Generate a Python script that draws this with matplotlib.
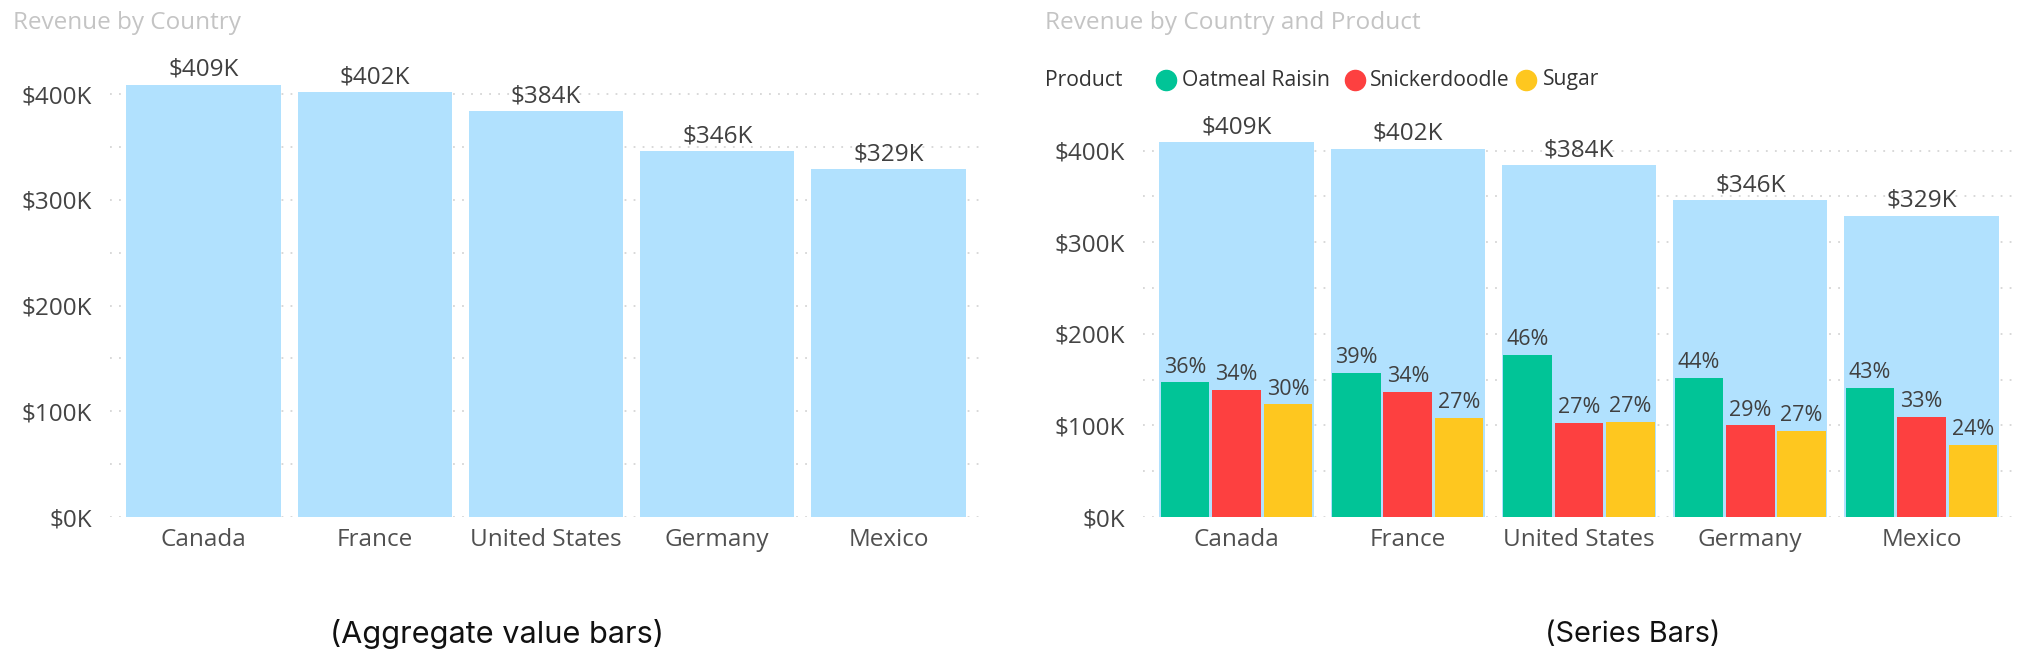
import matplotlib
matplotlib.use("Agg")
import matplotlib.pyplot as plt
from matplotlib.lines import Line2D
from matplotlib.ticker import MultipleLocator, FuncFormatter

# ---------------- data (thousands of $) ----------------
countries = ["Canada", "France", "United States", "Germany", "Mexico"]
revenue_total_k = [409, 402, 384, 346, 329]
oatmeal_raisin_k = [147, 157, 177, 152, 141]
snickerdoodle_k = [139, 137, 103, 100, 109]
sugar_k = [123, 108, 104, 94, 79]
products = ["Oatmeal Raisin", "Snickerdoodle", "Sugar"]
y_ticks_k = [0, 100, 200, 300, 400]

# ---------------- style ----------------
FONT = "Open Sans"
plt.rcParams["font.family"] = [FONT, "DejaVu Sans"]
LIGHT_BLUE = "#B1E1FE"
PROD_COLORS = ["#01C497", "#FD4040", "#FEC71F"]
TICK_COLOR = "#444444"
CAT_COLOR = "#505050"
LABEL_COLOR = "#404040"
TITLE_COLOR = "#C4C4C4"
GRID_COLOR = "#D6D6D6"

W, H = 2024, 652
fig = plt.figure(figsize=(W / 100, H / 100), dpi=100)
fig.patch.set_facecolor("white")
renderer = fig.canvas.get_renderer()


def fit_text(x_px, y_px, s, width_px, ha="left", base=16, **kw):
    t = fig.text(x_px / W, 1 - y_px / H, s, fontsize=base, ha=ha, va="center", **kw)
    w = t.get_window_extent(renderer).width
    t.set_fontsize(base * width_px / w)
    return t


def px_axes(x0, x1, y_bottom, y_top):
    return fig.add_axes([x0 / W, 1 - y_bottom / H, (x1 - x0) / W, (y_bottom - y_top) / H])


def style_axes(ax, ymax):
    ax.set_xlim(-0.546, len(countries) - 1 + 0.546)
    ax.set_ylim(0, ymax)
    for s in ax.spines.values():
        s.set_visible(False)
    ax.yaxis.set_minor_locator(MultipleLocator(50))
    ax.set_yticks(y_ticks_k)
    ax.yaxis.set_major_formatter(FuncFormatter(lambda v, p: f"${int(v)}K"))
    ax.tick_params(axis="y", which="both", length=0, pad=13, labelsize=17.5, labelcolor=TICK_COLOR)
    ax.tick_params(axis="x", length=0, pad=8, labelsize=17.5, labelcolor=CAT_COLOR)
    ax.set_xticks(range(len(countries)))
    ax.set_xticklabels(countries)
    ax.grid(axis="y", which="both", color=GRID_COLOR, linestyle=(0, (1, 4)), linewidth=1.3)
    ax.set_axisbelow(True)


x = list(range(len(countries)))
BAR_W = 0.9

# ---------------- left chart ----------------
ax1 = px_axes(110, 982, 517, 52)
ax1.bar(x, revenue_total_k, width=BAR_W, color=LIGHT_BLUE, zorder=2)
style_axes(ax1, 440)
for xi, v in zip(x, revenue_total_k):
    ax1.annotate(f"${v}K", (xi, v), xytext=(0, 6.5), textcoords="offset points",
                 ha="center", va="baseline", fontsize=17.5, color=LABEL_COLOR)
fit_text(13, 23, "Revenue by Country", 228, color=TITLE_COLOR)

# ---------------- right chart ----------------
ax2 = px_axes(1143, 2015, 517, 114)
ax2.bar(x, revenue_total_k, width=BAR_W, color=LIGHT_BLUE, zorder=2)
style_axes(ax2, 440)
for xi, v in zip(x, revenue_total_k):
    ax2.annotate(f"${v}K", (xi, v), xytext=(0, 6.5), textcoords="offset points",
                 ha="center", va="baseline", fontsize=17.5, color=LABEL_COLOR)

series = [oatmeal_raisin_k, snickerdoodle_k, sugar_k]
sub_w = BAR_W / 3
for k, (vals, col) in enumerate(zip(series, PROD_COLORS)):
    offs = (k - 1) * sub_w
    xs = [xi + offs for xi in x]
    ax2.bar(xs, vals, width=sub_w - 0.016, color=col, zorder=3)
    for xi, v, tot in zip(xs, vals, revenue_total_k):
        ax2.annotate(f"{round(100 * v / tot)}%", (xi, v), xytext=(0, 7), textcoords="offset points",
                     ha="center", va="baseline", fontsize=15.5, color=LABEL_COLOR, zorder=4)

fit_text(1045, 23, "Revenue by Country and Product", 374, color=TITLE_COLOR)

# legend
LEG_Y = 80
lt = fit_text(1182, LEG_Y, products[0], 148, color="#333333")
leg_size = lt.get_fontsize()
fig.text(1045 / W, 1 - LEG_Y / H, "Product", fontsize=leg_size, color="#333333",
         ha="left", va="center")
circle_x = [1166, 1355, 1526]
text_x = [1182, 1370, 1543]
for i, (name, col, cx, tx) in enumerate(zip(products, PROD_COLORS, circle_x, text_x)):
    fig.add_artist(Line2D([cx / W], [1 - LEG_Y / H], marker="o", markersize=14.5, color=col,
                          linestyle="none", transform=fig.transFigure))
    if i > 0:
        fig.text(tx / W, 1 - LEG_Y / H, name, fontsize=leg_size, color="#333333",
                 ha="left", va="center")

# captions
fit_text(497, 634, "(Aggregate value bars)", 335, ha="center", color="#111111",
         family=["Inter", "DejaVu Sans"])
fit_text(1633, 634, "(Series Bars)", 176, ha="center", color="#111111",
         family=["Inter", "DejaVu Sans"])

fig.savefig("out.png", dpi=100, facecolor="white")
